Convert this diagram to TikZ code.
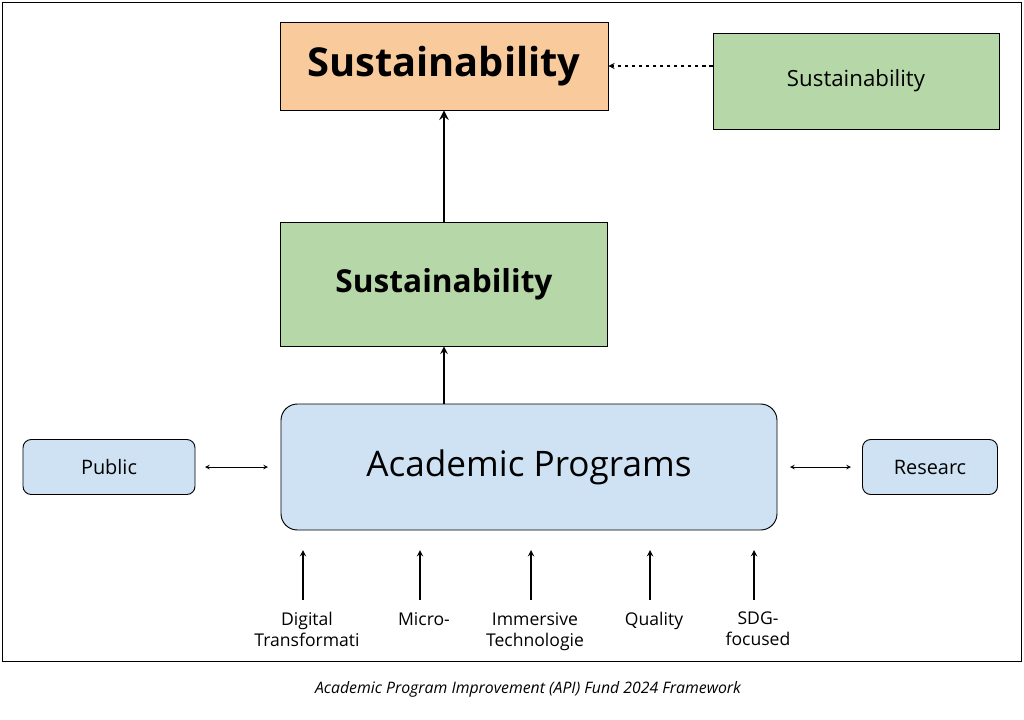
\documentclass[tikz,border=0pt]{standalone}
\usepackage{fontspec}
\setmainfont{Open Sans}
\usetikzlibrary{positioning}

\definecolor{orangefill}{HTML}{F9CB9C}
\definecolor{greenfill}{HTML}{B6D7A8}
\definecolor{bluefill}{HTML}{CFE2F3}

\tikzset{
  box/.style={draw=black, thick},
  greenbox/.style={box, fill=greenfill},
  progbox/.style={draw=black, thick, fill=bluefill, rounded corners=14pt},
  inlabel/.style={font=\fontsize{15}{18}\selectfont, align=center, anchor=north}
}

\begin{document}
\begin{tikzpicture}[x=0.03cm,y=-0.03cm]
\useasboundingbox (0,0) rectangle (1024,719);

% Frame
\draw[thick] (2,2) rectangle (1021,661);

% Boxes
\node[box, fill=orangefill, minimum width=9.84cm, minimum height=2.64cm] (goal) at (444,66)
   {\fontsize{34}{40}\selectfont\bfseries Sustainability};
\node[greenbox, minimum width=8.58cm, minimum height=2.88cm] (side) at (856,81)
   {\fontsize{19}{22}\selectfont Sustainability};
\node[greenbox, minimum width=9.81cm, minimum height=3.72cm] (mid) at (444,284)
   {\fontsize{27}{32}\selectfont\bfseries Sustainability};
\node[progbox, minimum width=14.88cm, minimum height=3.78cm] (prog) at (529,467)
   {\fontsize{30}{36}\selectfont Academic Programs};
\node[progbox, rounded corners=7pt, minimum width=5.16cm, minimum height=1.65cm] (public) at (109,467)
   {\fontsize{17}{20}\selectfont Public};
\node[progbox, rounded corners=7pt, minimum width=4.05cm, minimum height=1.65cm] (res) at (930,467)
   {\fontsize{17}{20}\selectfont Researc};

% Arrows
\draw[line width=2.5pt,->,>=stealth] (mid.north) -- (goal.south);
\draw[line width=1.8pt,->,>=stealth] (prog.north -| mid) -- (mid.south);
\draw[dashed,->,>=stealth,line width=1.3pt] (side.west |- goal) -- (goal.east);
\coordinate (pl) at (205,467);
\coordinate (pr) at (268,467);
\draw[thick,<->,>=stealth] (pl) -- (pr);
\coordinate (rl) at (790,467);
\coordinate (rr) at (851,467);
\draw[thick,<->,>=stealth] (rl) -- (rr);

% Inputs
\foreach \x/\name/\txt in {303/dig/{Digital\\Transformati},420/mic/{Micro-},531/imm/{Immersive\\Technologie},650/qua/{Quality},754/sdg/{SDG-\\focused}} {
  \node[inlabel] (\name) at (\x+4,608) {\txt};
  \coordinate (\name t) at (\x,550);
  \draw[line width=1.4pt,->,>=stealth] (\x,600) -- (\name t);
}

% Caption
\node (cap) at (528,689) {\fontsize{13.5}{16}\selectfont\itshape Academic Program Improvement (API) Fund 2024 Framework};
\end{tikzpicture}
\end{document}
